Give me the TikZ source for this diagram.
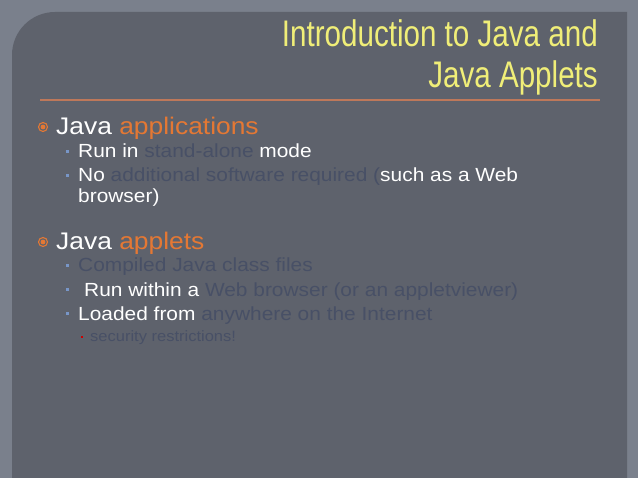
\documentclass[tikz,border=0pt]{standalone}
\usepackage{fontspec}
\setmainfont{Liberation Sans}
\newfontfamily\narrowf[FakeStretch=0.8]{Liberation Sans}
\newfontfamily\widef[FakeStretch=1.1]{Liberation Sans}
\definecolor{outerbg}{RGB}{122,128,140}
\definecolor{panel}{RGB}{94,98,108}
\definecolor{ttl}{RGB}{240,238,120}
\definecolor{org}{RGB}{228,120,52}
\definecolor{dim}{RGB}{72,80,102}
\definecolor{dotc}{RGB}{120,150,200}
\definecolor{rul}{RGB}{190,120,90}
\begin{document}
\begin{tikzpicture}[x=1pt,y=-1pt,
  txt/.style={anchor=base west,inner sep=0pt,text=white},
  big/.style={txt,font=\widef\fontsize{24}{26}\selectfont},
  mid/.style={txt,font=\widef\fontsize{19}{21}\selectfont},
  sml/.style={txt,font=\widef\fontsize{15}{16}\selectfont},
  ttlf/.style={anchor=base east,inner sep=0pt,text=ttl,font=\narrowf\fontsize{37}{40}\selectfont},
  sq/.style={fill=dotc,minimum size=3pt,inner sep=0pt}]
\fill[outerbg] (0,0) rectangle (638,478);
\useasboundingbox (0,0) rectangle (638,478);
\fill[panel] (12,478) [rounded corners=43pt] -- (12,12) [sharp corners] -- (627,12) -- (627,478) -- cycle;
\node[ttlf] (t1) at (598,47) {Introduction to Java and};
\node[ttlf] (t2) at (598,88) {Java Applets};
\draw[rul,line width=1.2pt] (40,100) -- (600,100);
\foreach \y in {127,242}{
  \draw[org,line width=1.1pt] (43,\y) circle (4.5);
  \fill[org] (43,\y) circle (2.4);
}
\node[big] (a) at (56,135) {Java \textcolor{org}{applications}};
\node[sq] at (67,152) {};
\node[mid] (a1) at (78,158) {Run in \textcolor{dim}{stand-alone} mode};
\node[sq] at (67,176) {};
\node[mid] (a2) at (78,182) {No \textcolor{dim}{additional software required (}such as a Web};
\node[mid] (a3) at (78,203) {browser)};
\node[big] (b) at (56,250) {Java \textcolor{org}{applets}};
\node[sq] at (67,266) {};
\node[mid,text=dim] (b1) at (78,272) {Compiled Java class files};
\node[sq] at (67,290) {};
\node[mid] (b2) at (84,297) {Run within a \textcolor{dim}{Web browser (or an appletviewer)}};
\node[sq] at (67,314) {};
\node[mid] (b3) at (78,321) {Loaded from \textcolor{dim}{anywhere on the Internet}};
\node[sq,fill=red!80!black,minimum size=2.5pt] at (82,337) {};
\node[sml,text=dim] (b4) at (90,342) {security restrictions!};
\end{tikzpicture}
\end{document}
